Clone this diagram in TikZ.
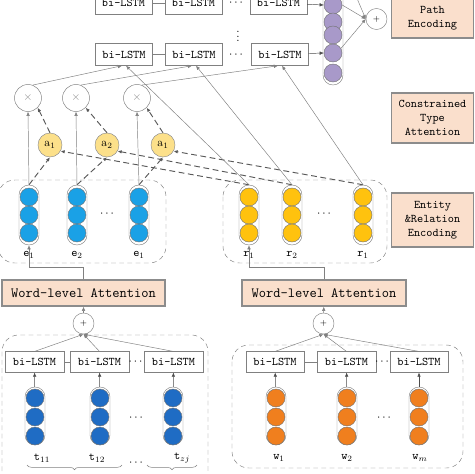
\documentclass[tikz,border=0pt]{standalone}
\usepackage{amsmath,amssymb}
\usetikzlibrary{arrows.meta,decorations.pathreplacing}
\definecolor{entblue}{HTML}{1AA1E6}
\definecolor{relyellow}{HTML}{FFC20E}
\definecolor{attyellow}{HTML}{FCE08A}
\definecolor{wordblue}{HTML}{1F6CC4}
\definecolor{wordorange}{HTML}{F07F1E}
\definecolor{pathpurple}{HTML}{A899C9}
\definecolor{peach}{HTML}{FADFCC}
\definecolor{linegray}{HTML}{808080}
\definecolor{bordergray}{HTML}{8C8C8C}

\tikzset{
  lstmbox/.style={draw=linegray, fill=white, inner sep=0, minimum width=1.7cm, minimum height=0.66cm},
  attbox/.style={draw=bordergray, line width=1.2pt, fill=peach, inner sep=0, font=\large\ttfamily},
  labelbox/.style={attbox, font=\ttfamily, align=center, minimum width=2.46cm},
  colbox/.style={draw=linegray, fill=white, rounded corners=0.3cm, minimum width=0.6cm, inner sep=0},
  cball/.style={circle, draw=black!55, inner sep=0, minimum size=0.54cm},
  xnode/.style={circle, draw=linegray, fill=white, inner sep=0, minimum size=0.81cm, text=black!45},
  anode/.style={circle, draw=black!45, fill=attyellow, inner sep=0, minimum size=0.72cm, font=\normalsize},
  plusnode/.style={circle, draw=linegray, fill=white, inner sep=0, minimum size=0.63cm, font=\scriptsize},
  grpbox/.style={draw=black!50, dashed, dash pattern=on 4pt off 3pt, rounded corners=0.5cm},
  conn/.style={draw=linegray, -{Latex[length=3.5pt,width=3pt]}, shorten >=0pt},
  dconn/.style={draw=black!65, thick, dash pattern=on 5pt off 3pt, -{Latex[length=3.5pt,width=3pt]}},
  dots/.style={inner sep=0, font=\normalsize},
}

\begin{document}
\begin{tikzpicture}[x=0.03cm, y=-0.03cm, font=\ttfamily]
\fill[white] (0,0) rectangle (474,474);
\path[use as bounding box] (0,0) rectangle (474,474);
\clip (0,0) rectangle (474,474);

% === dashed groups ===
\draw[grpbox] (-2,180) rectangle (166,263);
\draw[grpbox] (223,180) rectangle (387,263);
\draw[grpbox] (2,335) rectangle (208,500);
\draw[grpbox] (232,345) rectangle (463,468);

% === Path encoding ===
\node[lstmbox] (pa1) at (123.5,3) {bi-LSTM};
\node[lstmbox] (pa2) at (193.5,3) {bi-LSTM};
\node[dots] (pad) at (237,3) {$\cdots$};
\node[lstmbox] (pa3) at (278.5,3) {bi-LSTM};
\node[dots] (pvd) at (238,33) {$\vdots$};
\node[lstmbox] (pb1) at (124,54.5) {bi-LSTM};
\node[lstmbox] (pb2) at (194,54.5) {bi-LSTM};
\node[dots] (pbd) at (237,54.5) {$\cdots$};
\node[lstmbox] (pb3) at (280,54.5) {bi-LSTM};

\node[colbox, minimum height=2.97cm] (pcol) at (333,35.5) {};
\foreach \k/\y in {1/5,2/22,3/35,4/53,5/73}
  \node[cball, fill=pathpurple] (p\k) at (333,\y) {};

\node[plusnode] (pplus) at (376.5,19) {+};
\coordinate (pin) at (356,-4);

\draw[linegray] (pa1) -- (pa2);
\draw[linegray] (pb1) -- (pb2);
\draw[conn, draw=black!70] (pa3) -- (p1.west);
\draw[conn, draw=black!70] (pb3) -- (p4.west);
\draw[conn] (p1.east) -- (pplus.west);
\draw[conn] (p4.30) -- (pplus.west);
\draw[conn] (pin) -- (pplus.west);

% === Constrained type attention ===
\foreach \i/\x in {1/28,2/76,3/137}
  \node[xnode] (x\i) at (\x,98) {$\times$};
\node[anode] (a1) at (50,145) {a$_1$};
\node[anode] (a2) at (107,145) {a$_2$};
\node[anode] (a3) at (163,145) {a$_1$};

% === Entity & relation encoding ===
\foreach \i/\x in {1/29,2/77,3/139} {
  \node[colbox, minimum height=1.8cm] (ecol\i) at (\x,215) {};
  \foreach \k/\y in {1/197,2/215,3/233}
    \node[cball, fill=entblue] (e\i\k) at (\x,\y) {};
}
\foreach \i/\x in {1/249,2/292,3/363} {
  \node[colbox, minimum height=1.8cm] (rcol\i) at (\x,215) {};
  \foreach \k/\y in {1/197,2/215,3/233}
    \node[cball, fill=relyellow] (r\i\k) at (\x,\y) {};
}
\node[dots] (ed) at (108,214) {$\cdots$};
\node[dots] (rd) at (325,214) {$\cdots$};

\node (le1) at (29,255) {e$_1$};
\node (le2) at (77,255) {e$_2$};
\node (le3) at (139,255) {e$_1$};
\node (lr1) at (249,255) {r$_1$};
\node (lr2) at (292,255) {r$_2$};
\node (lr3) at (363,255) {r$_1$};

\foreach \i in {1,2,3} {
  \draw[conn] (ecol\i.north) -- (x\i.south);
  \draw[dconn] (ecol\i.north) -- (a\i.south);
  \draw[dconn] (a\i.north) -- (x\i.south east);
  \draw[dconn] (rcol\i.north) -- (a\i.-30);
}
\draw[conn] (x1.70) -- ([xshift=-0.06cm]pb1.south);
\draw[conn] (x2.70) -- ([xshift=-0.06cm]pb2.south);
\draw[conn] (x3.70) -- ([xshift=-0.06cm]pb3.south);
\draw[conn] (rcol1.north) -- ([xshift=0.06cm]pb1.south);
\draw[conn] (rcol2.north) -- ([xshift=0.06cm]pb2.south);
\draw[conn] (rcol3.north) -- ([xshift=0.06cm]pb3.south);

% === Right labels ===
\node[labelbox, minimum height=1.2cm] (lpath) at (432.5,18) {Path\\Encoding};
\node[labelbox, minimum height=1.5cm] (ltype) at (432.5,118) {Constrained\\Type\\Attention};
\node[labelbox, minimum height=1.62cm] (lenc) at (432.5,220) {Entity\\\&Relation\\Encoding};

% === Word-level attention ===
\node[attbox, minimum width=4.89cm, minimum height=0.78cm] (wlaL) at (83.5,293) {Word-level Attention};
\node[attbox, minimum width=4.92cm, minimum height=0.78cm] (wlaR) at (324,293) {Word-level Attention};
\draw[conn] (wlaL.north) -- ++(0,-12) -| (ecol1.south);
\draw[conn] (wlaR.north) -- ++(0,-12) -| (rcol1.south);

\node[plusnode] (plusL) at (83.5,323.5) {+};
\node[plusnode] (plusR) at (323.5,323.5) {+};
\draw[conn] (plusL) -- (wlaL);
\draw[conn] (plusR) -- (wlaR);

% === Word encoders ===
\node[lstmbox, minimum width=1.77cm, minimum height=0.62cm] (tl1) at (34.5,362) {bi-LSTM};
\node[lstmbox, minimum width=1.77cm, minimum height=0.62cm] (tl2) at (99.5,362) {bi-LSTM};
\node[dots] (tld) at (136.5,362) {$\cdots$};
\node[lstmbox, minimum width=1.77cm, minimum height=0.62cm] (tl3) at (173.5,362) {bi-LSTM};
\node[lstmbox, minimum width=1.74cm, minimum height=0.62cm] (wl1) at (275,362) {bi-LSTM};
\node[lstmbox, minimum width=1.77cm, minimum height=0.62cm] (wl2) at (346.5,362) {bi-LSTM};
\node[dots] (wld) at (383,362) {$\cdots$};
\node[lstmbox, minimum width=1.74cm, minimum height=0.62cm] (wl3) at (419,362) {bi-LSTM};
\draw[linegray] (tl1) -- (tl2);
\draw[linegray] (wl1) -- (wl2);

\foreach \i/\x in {1/35,2/100,3/173} {
  \node[colbox, minimum height=1.74cm] (tcol\i) at (\x,416) {};
  \foreach \k/\y in {1/398,2/417,3/436}
    \node[cball, fill=wordblue] (t\i\k) at (\x,\y) {};
  \draw[conn, draw=black!70] (tcol\i) -- (tl\i);
  \draw[conn] (tl\i.north) -- (plusL.south);
}
\foreach \i/\x in {1/276,2/347,3/419} {
  \node[colbox, minimum height=1.74cm] (wcol\i) at (\x,416) {};
  \foreach \k/\y in {1/398,2/417,3/436}
    \node[cball, fill=wordorange] (w\i\k) at (\x,\y) {};
  \draw[conn, draw=black!70] (wcol\i) -- (wl\i);
  \draw[conn] (wl\i.north) -- (plusR.south);
}
\node[dots] (tcd) at (137,418) {$\cdots$};
\node[dots] (wcd) at (385,418) {$\cdots$};

\node (lt1) at (42,458) {t$_{11}$};
\node (lt2) at (97,458) {t$_{12}$};
\node (lt3) at (182,458) {t$_{zj}$};
\node (lw1) at (279,458) {w$_1$};
\node (lw2) at (347,458) {w$_2$};
\node (lw3) at (420,458) {w$_m$};

\coordinate (b1s) at (27,465);
\coordinate (b1e) at (122,465);
\coordinate (b2s) at (147,465);
\coordinate (b2e) at (197,465);
\draw[linegray, decorate, decoration={brace, mirror, amplitude=4pt}] (b1s) -- (b1e);
\draw[linegray, decorate, decoration={brace, mirror, amplitude=4pt}] (b2s) -- (b2e);
\node[dots] (bd) at (137,463) {$\cdots$};

\end{tikzpicture}
\end{document}
